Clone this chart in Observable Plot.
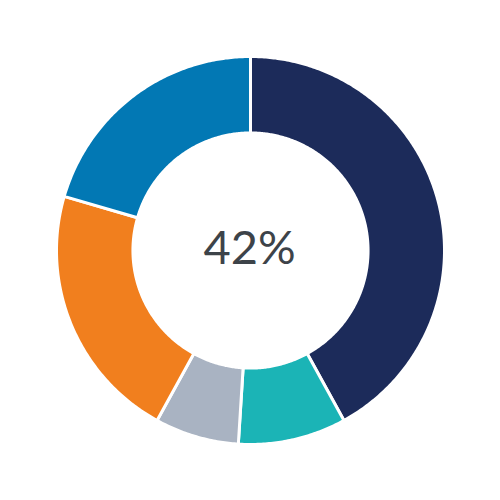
<!DOCTYPE html>
<html>
<head>
<meta charset="utf-8">
<script src="https://cdn.jsdelivr.net/npm/d3@7"></script>
<script src="https://cdn.jsdelivr.net/npm/@observablehq/plot@0.6"></script>
<style>
  html, body { margin: 0; padding: 0; background: #fff; }
  #chart { width: 500px; height: 500px; }
</style>
</head>
<body>
<div id="chart"></div>
<script>
// Data
const labels = ["Segment 1", "Segment 2", "Segment 3", "Segment 4", "Segment 5"];
const values = [42, 9, 7, 21.5, 20.5];
const colors = ["#1c2b5a", "#1bb4b6", "#a9b3c2", "#f17f1e", "#0278b4"];
const centerLabel = "42%";
const innerRatio = 0.606;

// Build slice polygons from data (angles from d3.pie)
const pie = d3.pie().sort(null).value(d => d.value);
const arcs = pie(labels.map((label, i) => ({label, value: values[i]})));
function pt(a, r) { return [r * Math.sin(a), r * Math.cos(a)]; }
function slicePolygon(a0, a1) {
  const n = Math.max(8, Math.ceil((a1 - a0) / 0.01));
  const ring = [];
  for (let k = 0; k <= n; k++) ring.push(pt(a0 + (a1 - a0) * k / n, 1));
  for (let k = n; k >= 0; k--) ring.push(pt(a0 + (a1 - a0) * k / n, innerRatio));
  ring.push(ring[0]);
  return ring;
}
const features = {
  type: "FeatureCollection",
  features: arcs.map(a => ({
    type: "Feature",
    properties: {label: a.data.label},
    geometry: {type: "Polygon", coordinates: [slicePolygon(a.startAngle, a.endAngle)]}
  }))
};
const outline = {type: "Polygon", coordinates: [slicePolygon(0, 2 * Math.PI - 1e-9).slice(0, 0).concat(
  d3.range(0, 361).map(d => pt(d * Math.PI / 180, 1)))]};

const chart = Plot.plot({
  width: 500,
  height: 500,
  margin: 56,
  projection: {type: "reflect-y", domain: outline},
  color: {domain: labels, range: colors},
  marks: [
    Plot.geo(features, {fill: d => d.properties.label, stroke: "white", strokeWidth: 3}),
    Plot.text([centerLabel], {
      frameAnchor: "middle",
      text: d => d,
      fontSize: 47,
      fontFamily: "Lato",
      fill: "#3d4349",
      dx: -1,
      dy: -2
    })
  ]
});
document.getElementById("chart").append(chart);
</script>
</body>
</html>
